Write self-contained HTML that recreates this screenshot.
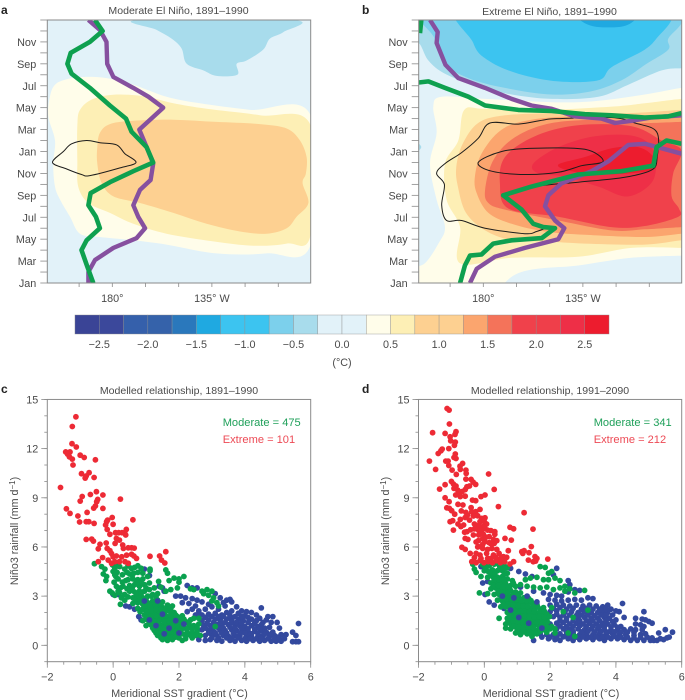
<!DOCTYPE html>
<html lang="en">
<head>
<meta charset="utf-8">
<title>El Niño composites and rainfall relationship</title>
<style>
html,body{margin:0;padding:0;background:#fff;}
svg{display:block;font-family:"Liberation Sans",sans-serif;fill:#4a4a4a;}
.title{font-size:10.55px;text-anchor:middle;}
.tick{font-size:10.8px;}
.panel{font-size:12px;font-weight:bold;fill:#222;}
.cb{font-size:10.8px;text-anchor:middle;}
.axt{font-size:10.7px;text-anchor:middle;}
.leg{font-size:11.1px;}
</style>
</head>
<body>
<svg id="fig" xmlns="http://www.w3.org/2000/svg" width="685" height="700" viewBox="0 0 685 700">
  <text class="panel" x="1" y="14">a</text>
  <text class="title" x="178.5" y="14">Moderate El Niño, 1891–1990</text>
  <text class="panel" x="362" y="14">b</text>
  <text class="title" x="549.5" y="15">Extreme El Niño, 1891–1990</text>
  <text class="cb" x="342" y="366">(°C)</text>
  <text class="panel" x="1" y="393">c</text>
  <text class="title" x="179" y="394">Modelled relationship, 1891–1990</text>
  <text class="panel" x="362" y="393">d</text>
  <text class="title" x="550" y="394">Modelled relationship, 1991–2090</text>
  <text class="axt" x="179.5" y="697">Meridional SST gradient (°C)</text>
  <text class="axt" x="551" y="697">Meridional SST gradient (°C)</text>
  <text class="axt" transform="translate(18,531) rotate(-90)">Niño3 rainfall (mm d<tspan dy="-3" font-size="8">−1</tspan><tspan dy="3">)</tspan></text>
  <text class="axt" transform="translate(389,531) rotate(-90)">Niño3 rainfall (mm d<tspan dy="-3" font-size="8">−1</tspan><tspan dy="3">)</tspan></text>
</svg>
<script>
// ---------- Tick labels ----------
const monthLabels = ["Jan","Mar","May","Jul","Sep","Nov","Jan","Mar","May","Jul","Sep","Nov"];
const lonTicks = [165,180,195,210,225,240,255];
const lonLabels = {180:"180°",225:"135° W"};
const colorbarTicks = [-2.5,-2,-1.5,-1,-0.5,0,0.5,1,1.5,2,2.5];
const colorbarSteps = [-2.75,-2.5,-2.25,-2,-1.75,-1.5,-1.25,-1,-0.75,-0.5,-0.25,0,0.25,0.5,0.75,1,1.25,1.5,1.75,2,2.25,2.5,2.75];
const scatterXTicks = [-2,0,2,4,6];
const scatterYTicks = [0,3,6,9,12,15];

// ---------- Panel a: contour bands, [lon, month, lon, month, ...] ----------
const aNeg05 = [191.7,24,200,23.1,206.8,22.3,211.3,21.4,213.6,20,221.1,19.4,227.1,18.9,236.5,19,236.2,20,240.7,20.3,248.2,21.3,251.2,22.3,257.3,22.9,261.8,24];
const aPos025 = [151.8,17,151.1,15.2,154.1,13,153.3,10.9,154.1,8.8,156.4,7.6,160.9,6.05,165.4,4.5,174.4,4.2,189.5,3.9,204.5,3.5,227.1,2.7,249.7,2.7,269.6,3.5,269.6,15.3,242.2,15.8,219.6,16.4,204.5,17,189.5,18.1,177.4,18.7,166.9,18.8,159.4,18.6,154.1,18.1];
const aPos05 = [164.2,14.3,165.4,15.8,171.4,16.8,182,17.2,195.5,17,207.6,16.4,222.6,15.9,246.7,15.3,269.6,14.4,269.6,4.4,258.8,3.6,243.7,3.4,225.6,3.8,204.5,4.5,189.5,5.4,178.9,6.4,169.2,7.3,164.6,8.8,164.2,11.2];
const aPos075 = [173.2,12.4,174.4,13.7,178.9,14.5,189.5,14.8,207.6,14.9,227.1,14.7,246.7,14.5,258.8,14.1,264.8,13,267.8,11.5,267.5,10,266,9.1,268.6,7.3,263.3,6.05,258.8,5,249.7,4.5,237.7,4.7,222.6,5.4,207.6,6.4,192.5,7.3,180.5,7.9,175.2,9.1,173.2,10.9];
const aPurple = [169.2,0,169.2,1,172.2,2.1,180.5,3.2,191,4.1,194.8,5,191.7,6.05,189.5,7.1,192.5,8.5,197.3,9.4,198.5,10.9,195.5,12.4,192.2,14,203,16,196.3,17,189.5,17.8,180.5,18.8,177.7,20,177.4,22,174.4,23.1,169.2,24];
const aGreen = [171.4,0,168.7,1.5,166.1,3,168.4,3.9,174.4,5,172.6,6.05,169.2,7.1,170.2,8.2,178.9,9.2,189.5,10.2,198.5,11,195.5,12.4,188.7,13.8,186.2,15,178.9,16.2,169.9,17.8,161.6,19.1,159.7,20,161.2,21,169.9,22,175.6,23,172.2,24];
const aBlack = [153,11,157.9,12,161.6,12.7,168.4,13,174.4,12.8,182,12.6,185.7,11.8,190.7,11,183.5,10.5,169.9,9.8,166.1,9.9,159.4,10.4];

// ---------- Panel b: contour bands ----------
const bNeg05 = [150.8,21.9,155.2,20.3,162.7,19.1,177.7,17.9,192.8,17.2,210.9,16.8,232,17,245.5,18.1,260.6,19.4,269.6,19.6,275,19.6,275,26,145,26,145,21.9];
const bNeg075 = [157.4,26,158.2,22.2,162.7,20,173.2,18.7,189.8,17.8,210.9,17.2,228.9,17.5,242.5,18.5,253.8,20,263.6,21.3,263.6,22.3,269.6,23.7,275,26];
const bNeg1 = [172,26,175.5,21.9,182.3,20.3,195.8,19.1,213.9,18.4,232,18.5,238,19.7,253,21.3,259.1,22.5,265.1,24,268,26];
const bNeg15 = [220,25,223.7,24,230.5,23.4,242.5,23.4,248.5,24,252,25];
const bLeftBlob = [148,13,152,12.4,148,11.8];
const bPos025 = [157.4,16.1,158.9,13.7,155.9,10.9,158.9,7.6,162.7,5.1,159.7,3.6,153.6,1.8,146,1,146,-2,177.7,-2,195.8,0.9,222.9,1.6,247,2.3,269.6,2.5,276,2.5,276,17.8,269.6,17.8,253,17.2,230.5,16.6,210.9,16.5,180.8,16.8,161.2,17];
const bPos05 = [171.4,15.8,168.7,13,162.7,10.9,163.4,7.6,169.5,5.1,169.5,1.8,192.8,2.3,222.9,2.4,247,3.2,269.6,3.2,276,3.2,276,16.8,269.6,16.8,253,16.4,238,16.1,207.9,15.8,180.8,15.9];
const bPos075 = [167.8,10.6,170.7,12.7,177.7,14.6,189.8,15.3,213.9,15.5,245.5,15.5,269.6,15.8,276,15.8,276,3.9,269.6,3.9,253,3.5,225.9,3.6,207.9,3.8,192.8,3.9,180.8,4.8,172.2,6.4,168.5,8.8];
const bPos125 = [176.2,9.7,179.2,11.8,188.3,14,201.8,14.9,222.9,15.2,245.5,15,269.6,15.3,276,15.3,276,4.5,269.6,4.5,253,4.2,225.9,4.4,207.9,4.7,192.8,5.4,182.3,6.4,177,8.2];
const bPos15 = [180.8,8.5,184.5,11.2,194.3,13.3,210.9,14.6,235,14.9,250,14.6,269.6,14.7,276,14.7,276,5.1,269.6,5.1,253,4.9,238,4.8,213.9,5.7,189.8,6.7,182.3,7.3];
const bPos175 = [187.5,9.1,189.8,11.5,203.3,13.4,222.9,14.4,247,14.3,260.6,13,269.6,12.1,265.8,10,265.1,7.9,268.4,6.8,268.1,6.05,253,5.2,238,5.1,213.9,6.05,191.3,6.8];
const bPos225 = [202.6,10.9,213.9,12.4,230.5,13.4,248.5,13.4,256.8,12.1,256.8,9.4,245.5,7.9,232,8.8,216.9,9.7,204.8,10];
const bPos25 = [213.9,10.8,225.9,11.5,238,12.3,250,12.4,256.8,11.5,256,10.3,235,9.9,219.9,10.2];
const bGreenLower = [169.5,0,171.7,1.6,174,2.5,179.2,2.6,184.5,3.6,192.8,3.9,206.4,4.1,212.4,5,207.1,5.1,202.6,5.4,197.3,6.7,189,8,201.8,8.8,222.9,9.9,242.5,10.2,256.8,10.7,258.3,12.4,262.8,13,269.6,12.7];
const bGreenUpper = [150.8,18.3,155.2,18.4,162.7,17.8,173.2,17,180.8,16.2,195.8,15.8,210.9,15.7,225.9,15.4,238,15.3,253,15.1,263.6,15.2,269.6,15.5];
const bGreenTop = [152,24,151.4,22.8];
const bPurpleLower = [174,0,177,1.3,185.3,2.4,198.8,3.2,213.9,4,216.6,5,212.4,5.7,207.9,7,209.4,8,215.4,9.1,228.9,10.2,236.5,11.1,245.5,12.6,253,12.7,269.6,11.8];
const bPurpleUpper = [155.9,24,159.4,22.9,158.9,21.9,162.9,19.9,168.7,18.7,180.8,17.8,192.8,16.8,201.8,16.2,210.9,15.9,221.4,15.2,233.5,15,239.5,14.6,247,14.8,256,15.1,269.6,15.3];
const bBlackOuter = [209.4,5.1,204.1,4.7,198.8,4.5,180.8,5,170.2,5.7,163.4,5.7,161.2,7.1,162.4,9,158.9,10,162.7,10.9,170.2,11.9,177.7,13.2,183,14.6,195.8,14.5,207.9,14.9,213.9,15,238,15.1,248.5,14.6,258.3,13.8,258.6,11.5,256,10.3,242.5,9.6,222.9,9.2,203.3,8.8,189,7.9];
const bBlackInner = [177.7,11,188.3,12,203.3,12.3,225.9,12.2,234.2,11.1,224.4,10.7,213.9,10.1,198.8,9.9,183.8,10.2];

// ---------- Panel c scatter: [x, y, x, y, ...] ----------
const cExtreme = [-1.13,13.94,-1.24,13.35,-1.25,12.3,-1.12,12.1,-1.44,11.8,-1.31,11.8,-1.38,11.66,-1.33,11.5,-1.24,11.36,-1.22,11,-1,11.6,-0.88,11.46,-0.54,11.32,-0.96,10.47,-0.73,10.53,-0.82,10.33,-0.85,10.2,-0.58,10.24,-1.6,9.63,-0.51,9.37,-0.69,9.2,-0.31,9.17,-0.94,9.08,-1,8.8,-0.47,8.9,-0.5,8.76,0.22,8.92,-0.54,8.5,-0.59,8.37,-0.31,8.35,-1.42,8.33,-1.31,8.05,-0.79,8.11,-1.07,7.89,-1.02,7.52,-0.82,7.54,-0.74,7.54,-0.58,7.44,-0.03,7.8,-0.17,7.64,-0.2,7.54,0.6,7.66,0,7.38,-0.23,7.34,-0.18,7.07,0.4,7.07,0.35,6.87,0.07,6.87,0.17,6.87,0.27,6.87,-0.1,6.77,0.38,6.73,0.1,6.52,0.19,6.42,-0.82,6.46,-0.65,6.48,-0.6,6.36,-0.21,6.24,0.06,6.22,-0.4,6.16,0.29,6.12,-0.45,5.89,-0.18,5.91,-0.1,5.77,0.31,5.91,0.46,5.95,0.56,5.95,0.64,5.93,-0.05,5.6,0.56,5.55,0.63,5.45,1.12,5.43,1.41,5.45,1.6,5.71,1.47,5.2,1.57,5.02,-0.32,5.35,-0.45,5.1,-0.15,5.2,0,5.4,0.1,5.45,0.26,5.4,0.41,5.5,0.71,5.3,0.05,5.1,0.19,5.1,0.46,5,-0.05,5,0.36,5.1];
const cModerate = [-0.57,4.98,-0.35,4.8,-0.25,4.65,-0.3,4.35,-0.2,4.2,-0.22,3.95,-0.1,3.3,-0.03,3.2,0.05,3.05,-0.02,4.9,0.05,4.7,0,4.5,0.1,4.85,0.12,4.45,0.2,4.8,0.08,4.2,0.15,4.05,0.03,3.85,0.1,3.6,0.22,3.5,0.2,3.2,0.25,2.9,0.22,2.5,0.35,2.75,0.35,3.1,0.3,3.6,0.38,3.95,0.28,4.3,0.35,4.65,0.45,4.85,0.55,4.7,0.65,4.75,0.75,4.85,0.85,4.7,0.5,4.35,0.62,4.4,0.75,4.45,0.9,4.4,0.45,4,0.6,4.05,0.75,4,0.9,4.05,1.05,4.2,1.12,4.65,0.5,3.65,0.65,3.7,0.8,3.6,0.95,3.7,1.1,3.8,0.5,3.3,0.65,3.25,0.8,3.3,0.95,3.3,1.1,3.4,1.25,3.5,0.45,2.95,0.6,2.9,0.75,2.95,0.9,2.9,1.05,3,1.2,3.1,1.35,3.15,0.6,2.55,0.75,2.6,0.9,2.5,1.05,2.6,1.2,2.7,1.35,2.75,1.5,2.65,0.75,2.25,0.9,2.2,1.05,2.25,1.2,2.35,1.35,2.4,1.5,2.3,1.65,2.45,1.8,2.4,0.95,1.85,1.1,1.9,1.25,2,1.4,2.05,1.55,1.95,1.7,2.1,1.85,2,0.9,1.5,1.05,1.55,1.2,1.6,1.35,1.65,1.5,1.6,1.65,1.7,1.8,1.65,1.95,1.75,2.1,1.8,1,1.2,1.15,1.25,1.3,1.3,1.45,1.2,1.6,1.3,1.75,1.3,1.9,1.35,2.05,1.4,2.2,1.45,2.35,1.55,2.45,1.65,2.6,1.65,1.25,0.9,1.4,0.95,1.55,0.9,1.7,0.95,1.85,1,2,1,2.15,1.05,2.3,1.15,2.45,1.2,2.6,1.3,1.35,0.6,1.5,0.55,1.65,0.65,1.8,0.6,1.95,0.7,2.1,0.7,2.25,0.8,2.4,0.75,2.55,0.85,2.65,0.6,1.5,0.35,1.65,0.3,1.8,0.35,2.1,0.3,2.2,0.4,2.4,0.45,1.12,4.55,1.6,4.6,1.65,4.4,1.7,3.95,1.85,4.1,2,4.05,2.15,4.2,2,3.85,1.95,3.5,1.75,3.4,1.6,3.3,1.45,3.55,1.38,3.9,2.35,3.45,2.45,3.4,2.7,3.3,2.85,3.4,3,3.3,2.75,3.15,2.9,3.05,3.05,2.9,3,2.7,3.15,2.6,3.2,2.4,3.1,1.15,0.05,4.3,0.15,3.3,0.28,3.85,0.42,3.45,0.42,4.45,0.58,4.25,0.58,3.5,0.7,3.15,0.7,3.85,0.85,3.15,0.85,3.85,1,3.5,1,2.85,1.15,3,1.3,2.95,0.68,2.75,0.82,2.75,0.98,2.4,1.12,2.45,1.28,2.5,1.45,2.5,0.82,2.05,1,2.05,1.15,2.1,1.3,2.2,1.45,2.2,1.6,2.2,1.75,2.25,1,1.7,1.15,1.75,1.3,1.8,1.45,1.85,1.6,1.8,1.75,1.85,1.9,1.85,1.1,1.4,1.25,1.45,1.4,1.45,1.55,1.45,1.7,1.5,1.85,1.5,2,1.55,2.15,1.6,2.3,1.35,1.2,1.05,1.35,1.1,1.5,1.05,1.65,1.1,1.8,1.15,1.95,1.2,2.1,1.2,2.25,1,2.4,1,2.55,1.05,1.3,0.75,1.45,0.75,1.6,0.75,1.75,0.8,1.9,0.85,2.05,0.85,2.2,0.6,2.35,0.6,2.5,0.6,1.45,0.45,1.6,0.45,1.75,0.5,1.9,0.5,2,0.45];
const cWeak = [0,3.1,0.15,3.1,0.38,2.4,0.5,2.35,0.65,2.2,0.78,1.75,0.85,1.55,0.95,4.65,1.1,4.25,1.4,3.6,1.5,3.5,1.55,3.3,2.25,3.65,2.4,3.5,2.55,3.5,1.9,3,2.05,3,2.2,2.9,2.4,2.85,2.55,2.75,2.7,2.65,2.9,2.5,2.1,2.6,2.3,2.55,2.5,2.4,3.1,3.15,3.25,2.9,3.35,2.6,3.45,2.75,3.55,2.8,3.6,2.65,3.4,2.4,3.2,2.2,3,2.35,2.8,2.2,2.6,2.1,2.4,2.2,2.25,2.05,3.75,2.35,3.9,2.1,4.05,2.05,4.2,2,4.35,1.85,4.5,2.28,4,1.8,3.8,1.95,3.6,2.1,3.45,2,3.3,1.85,3.1,1.95,2.9,1.9,2.7,1.85,2.5,1.85,4.2,1.6,4.35,1.5,4.55,1.4,4.7,1.75,4.85,1.75,4.65,1.55,4.8,1.4,4.98,1.4,5.05,1.05,2.7,1.5,2.9,1.55,3.1,1.6,3.25,1.55,3.45,1.6,3.6,1.55,3.8,1.6,3.95,1.5,4.1,1.4,2.75,1.2,2.95,1.2,3.15,1.25,3.3,1.2,3.5,1.25,3.7,1.25,3.85,1.2,4,1.15,4.2,1.2,4.4,1.15,4.6,1.05,4.75,1.1,2.7,0.95,2.9,0.9,3.05,0.85,3.25,0.9,3.4,0.9,3.6,0.95,3.75,0.9,3.95,0.9,4.1,0.85,4.3,0.85,4.5,0.9,4.65,0.8,4.85,0.8,2.8,0.6,3,0.6,3.15,0.6,3.35,0.6,3.5,0.55,3.7,0.6,3.85,0.6,4.05,0.6,4.2,0.55,4.4,0.55,4.55,0.6,4.75,0.55,4.9,0.6,5.1,0.65,5.25,0.65,5.45,0.8,5.55,0.6,2.6,0.35,2.8,0.3,2.95,0.35,3.15,0.3,3.3,0.25,3.55,0.3,3.7,0.25,3.9,0.3,4.05,0.25,4.25,0.3,4.45,0.25,4.6,0.3,4.8,0.25,4.95,0.25,5.1,0.25,5.45,0.22,5.55,0.22,5.63,0.22,5.63,1.33,2.6,1.95,2.8,1.7,3,1.75,3.2,1.75,3.35,1.75,3.55,1.8,3.7,1.75,3.9,1.75,4.1,1.7,4.45,1.65,2.85,1.35,3.05,1.4,3.25,1.4,3.4,1.4,3.6,1.4,3.75,1.4,3.9,1.35,4.3,1.35,4.5,1.25,2.8,1.05,3,1.05,3.2,1.05,3.35,1.05,3.55,1.1,3.7,1.05,3.9,1.05,4.1,1,4.3,1,4.45,1,2.9,0.75,3.1,0.75,3.3,0.75,3.45,0.75,3.65,0.75,3.85,0.75,4,0.75,4.2,0.7,4.4,0.7,4.6,0.7,4.8,0.7,5,0.5,3,0.45,3.2,0.45,3.45,0.45,3.6,0.45,3.8,0.45,4,0.4,4.15,0.4,4.35,0.4,4.5,0.4,4.7,0.4,4.9,0.4,5.05,0.4,5.2,0.4];
const cWeakOnTop = [1.35,2.7,1.5,1.9,1.3,1.2,1.7,1.05,1.9,1.5,1.55,0.7,2,0.75,2.15,1.3,1.1,1.55,0.95,2.7];

// ---------- Panel d scatter ----------
const dExtreme = [-1.13,14.45,-1.07,14.35,-1.06,13.5,-1.57,12.97,-1.19,12.93,-0.86,13.03,-0.89,12.87,-1.04,12.72,-1.02,12.48,-0.88,12.4,-0.91,12.2,-1.08,12,-1.28,11.97,-1.32,11.87,-1.4,11.7,-0.88,11.67,-0.92,11.46,-0.86,11.4,-1.67,11.24,-1.17,11.24,-1.1,11.24,-1.08,10.97,-0.66,11.1,-0.74,10.93,-0.73,10.73,-1.48,10.73,-0.56,10.69,-0.98,10.69,-0.55,10.49,-0.85,10.43,0.13,10.45,-0.56,10.14,-0.4,10.12,-1,10,-0.34,9.96,-0.26,9.82,-1.19,9.8,-0.94,9.84,-0.86,9.72,-0.92,9.57,-1.36,9.53,-0.53,9.67,-0.45,9.72,-0.58,9.5,0.3,9.51,-0.81,9.47,-0.68,9.37,-0.76,9.23,-0.87,9.17,0.02,9.17,-0.1,9.07,-1.19,9,-0.58,9.1,-0.73,9.07,-1.07,8.76,-0.36,8.86,-0.26,8.82,-0.65,8.56,0.43,8.46,-1.14,8.39,-1.06,8.35,-0.99,8.21,-0.13,8.29,-0.26,8.15,-0.38,8.15,-0.56,8.11,1.21,8.09,-0.51,7.95,-0.33,7.89,0.02,7.78,-0.08,7.74,-0.58,7.8,-0.45,7.64,-0.73,7.68,-0.96,7.6,-1.04,7.54,-0.13,7.54,0,7.54,-0.18,7.3,0.07,7.4,-0.63,7.34,-0.71,7.24,-0.05,7.24,0.78,7.2,0.89,7.11,1.48,7.09,-0.94,7.03,-0.18,7.03,-0.08,6.99,0.02,7.13,0.1,7.03,-0.53,6.93,0.32,6.93,-0.33,6.73,-0.17,6.73,-0.03,6.77,0.15,6.63,0.32,6.77,-0.58,6.52,-0.5,6.46,0.63,6.52,0.82,6.42,0.28,6.46,-0.18,6.38,0.02,6.32,0.15,6.26,0.3,6.22,0.38,6.38,-0.68,5.98,-0.58,5.85,-0.18,6.02,-0.05,5.91,0.23,5.91,0.38,5.85,1.43,6.02,0.73,5.77,1.14,5.71,1.21,5.77,1.17,5.61,1.36,5.65,-0.43,5.61,-0.25,5.61,-0.13,5.51,0.07,5.61,0.28,5.51,0.45,5.61,0.58,5.41,0.68,5.37,1.54,5.41,1.34,5.2,1.93,5.26,1.49,5.1,1.6,5.3,1.56,5.14,0.89,5.1,0.78,4.96,-0.38,5.1,-0.25,5.04,-0.13,5.16,-0.01,5.04,0.12,5.1,0.25,5.04,0.37,5.16,0.49,5.04,0.62,5.1,-0.25,6.3,-0.05,6.5,0.1,5.85,0.2,5.3,-0.3,5.35,-0.1,5.3,0.1,5.3,0.35,5.35,0.5,5.3,-0.2,6,0.2,6.2,-0.3,7.1,-0.42,7.05,-0.4,8.4,-0.7,8.2,-0.8,8.6,-0.9,8,-0.8,7.4,-0.6,6.9,0.05,6.6,0.2,7,-0.2,7.9,-0.3,7.4,-0.05,6.15];
const dModerate = [-0.35,4.95,-0.3,4.65,-0.25,4.45,-0.1,4.2,-0.05,4.9,0.05,4.95,0.15,4.85,0.3,4.95,0.45,4.9,0.6,4.9,0.7,4.75,-0.15,3.2,0,4.55,0.12,4.5,0.25,4.6,0.4,4.55,0.55,4.55,0.7,4.4,0.1,4.15,0.25,4.2,0.4,4.15,0.55,4.2,0.7,4.05,0.85,3.95,0.2,3.8,0.35,3.85,0.5,3.8,0.65,3.75,0.8,3.65,0.95,3.6,0.2,3.45,0.35,3.5,0.5,3.45,0.65,3.4,0.8,3.35,0.95,3.25,1.1,3.2,0.1,3.15,0.3,3.1,0.45,3.1,0.6,3.05,0.75,3,0.9,2.95,1.05,2.9,1.2,2.9,1.35,2.85,0.4,2.75,0.55,2.7,0.7,2.7,0.85,2.6,1,2.6,1.15,2.55,1.3,2.55,1.45,2.6,1.6,2.5,0.5,2.35,0.65,2.35,0.8,2.3,0.95,2.25,1.1,2.25,1.25,2.2,1.4,2.2,1.55,2.3,1.7,2.2,1.8,2.3,0.7,2,0.85,1.95,1,1.9,1.15,1.95,1.3,1.9,1.45,1.85,1.6,1.95,1.75,1.85,1.9,1.9,2.05,2.3,0.45,1.65,0.7,1.65,0.85,1.6,1,1.6,1.15,1.6,1.3,1.6,1.45,1.5,1.6,1.6,1.75,1.55,1.9,1.6,0.65,1.3,0.8,1.3,0.95,1.25,1.1,1.3,1.25,1.25,1.4,1.2,1.55,1.25,1.7,1.2,1.85,1.3,0.65,1.05,0.8,1,1,0.95,1.15,0.95,1.3,0.9,1.45,0.95,1.6,0.9,1.8,0.95,2,1,2.15,1,0.95,0.75,1.1,0.65,1.3,0.7,1.45,0.6,1.6,0.7,1.45,0.55,1.7,4.8,1.85,4.75,2.05,4.5,1.95,4.4,1.6,4.15,1.4,4.1,1.25,4,1.8,4,1.95,4,2.15,4.1,2.3,3.95,1.1,3.7,1.3,3.6,1.5,3.55,1.7,3.5,1.9,3.55,2.1,3.4,2.3,3.5,2.45,3.3,2.6,3.45,2.75,3.2,3.05,3.35,2.45,3.6,2.4,2.05,2.7,1.7,2.15,0.75,2.55,0.75,2.75,0.55,3.15,2.15,0.05,4.75,0.2,4.4,0.32,4.35,0.47,4.7,0.62,4.7,0.62,4.35,0.3,4,0.45,4,0.6,4,0.28,3.65,0.42,3.65,0.58,3.6,0.72,3.6,0.88,3.8,0.42,3.3,0.58,3.25,0.72,3.2,0.88,3.1,1.02,3.05,0.52,2.9,0.68,2.85,0.82,2.8,0.98,2.78,1.12,2.72,1.28,2.72,1.42,2.72,0.58,2.52,0.72,2.5,0.88,2.45,1.02,2.42,1.18,2.38,1.32,2.38,1.48,2.42,1.62,2.35,0.78,2.15,0.92,2.1,1.08,2.08,1.22,2.05,1.38,2.05,1.52,2.1,1.68,2.05,1.82,2.1,0.78,1.8,0.92,1.78,1.08,1.75,1.22,1.78,1.38,1.75,1.52,1.72,1.68,1.75,1.82,1.72,1.98,1.75,0.72,1.48,0.88,1.45,1.02,1.45,1.18,1.45,1.32,1.42,1.48,1.38,1.62,1.42,1.78,1.38,1.92,1.42,0.88,1.15,1.05,1.12,1.2,1.1,1.35,1.05,1.5,1.1,1.68,1.05,1.9,1.12,2.05,1.15,1.05,0.82,1.2,0.82,1.38,0.8,1.52,0.78,1.7,0.85,1.9,0.8];
const dWeak = [-0.1,4.8,0.1,3.9,-0.05,3.8,0.02,3.1,0.15,2.65,0.3,2.45,0.6,2.25,0.8,4.7,1.05,4.5,1.25,4.35,1.45,4.2,2.2,4.7,2.1,4.3,1.1,3.55,1.5,3.3,1.8,3.2,2,3.1,2.2,3.05,2.35,3,2.55,3.95,2.6,3.7,2.55,3.25,2.75,3.4,2.9,3.35,1.95,2.8,2.15,2.75,2.35,2.7,2.55,2.75,2.75,2.8,2.95,2.75,3.15,2.9,3.3,2.85,2,2.45,2.2,2.5,2.4,2.45,2.6,2.4,2.8,2.45,3,2.4,3.2,2.45,3.4,2.4,3.6,2.35,3.75,2.45,3.85,2.2,4.2,2.55,2,2.05,2.2,2.1,2.45,2,2.65,2.05,2.85,2,3.05,2.05,3.25,2,3.45,2,3.6,2.05,3.75,2,4.1,2.05,4,2.1,4.85,2.05,2.1,1.75,2.3,1.7,2.5,1.65,2.85,1.65,3.05,1.7,3.25,1.65,3.45,1.65,3.65,1.7,3.8,1.65,4,1.55,4.25,1.7,4.6,1.65,4.8,1.6,4.9,1.55,5,1.45,5.1,1.35,2,1.3,2.2,1.35,2.4,1.4,2.6,1.3,2.8,1.35,3,1.3,3.2,1.35,3.4,1.3,3.6,1.35,3.75,1.3,3.95,1.25,4.15,1.15,4.6,1.3,4.75,1.25,4.85,1.15,2.2,1,2.4,1,2.6,0.95,2.85,1,3.05,0.95,3.25,1,3.45,1,3.65,0.95,3.85,0.95,4.05,0.95,4.25,0.95,4.45,1,4.6,0.95,4.8,0.95,1.7,0.7,1.9,0.65,2.1,0.65,2.3,0.7,2.5,0.65,2.7,0.75,2.9,0.65,3.1,0.7,3.3,0.65,3.5,0.7,3.7,0.65,3.9,0.7,4.1,0.65,4.3,0.65,4.55,0.6,4.75,0.65,4.9,0.7,5.3,0.75,5.5,0.95,5.72,0.8,1.5,0.3,1.75,0.5,1.95,0.4,2.15,0.35,2.3,0.3,2.55,0.4,2.7,0.3,2.9,0.35,3.1,0.4,3.3,0.35,3.5,0.4,3.65,0.3,3.85,0.4,4.05,0.4,4.25,0.35,4.45,0.3,4.65,0.3,4.85,0.3,5.05,0.3,5.15,0.3,5.25,0.3,5.35,0.4,5.45,0.35,5.55,0.45,5.62,0.5,5.1,0.45,2.1,2.25,2.3,2.3,2.5,2.2,2.7,2.25,2.95,2.2,3.1,2.25,3.3,2.2,3.5,2.2,3.7,2.2,2.2,1.9,2.4,1.85,2.6,1.85,2.8,1.82,2.95,1.85,3.15,1.85,3.35,1.82,3.55,1.85,3.7,1.85,3.9,1.85,2.3,1.52,2.5,1.52,2.7,1.5,2.9,1.5,3.1,1.5,3.3,1.5,3.5,1.5,3.7,1.5,3.9,1.45,2.3,1.18,2.5,1.15,2.7,1.15,2.9,1.18,3.1,1.15,3.3,1.15,3.5,1.15,3.65,1.15,3.85,1.12,4.05,1.1,2.5,0.82,2.7,0.85,2.95,0.82,3.15,0.85,3.35,0.82,3.55,0.85,3.75,0.8,3.95,0.82,4.15,0.8,4.35,0.8,4.55,0.78,2,0.5,2.2,0.5,2.4,0.52,2.6,0.52,2.8,0.5,3,0.52,3.2,0.5,3.4,0.52,3.6,0.52,3.75,0.5,3.95,0.55,4.15,0.5,4.35,0.5,4.55,0.45,4.75,0.48,4.95,0.5];
const dWeakOnTop = [1.3,3,0.8,2.15,1.05,1.7,1.6,2.65,0.55,3,1.35,1.35,1.75,1.05,0.9,2.9];

// ---------- Styling (not data) ----------
const NS = "http://www.w3.org/2000/svg";
const fig = document.getElementById("fig");
const INK = "#8a8a8a";
const COL = {n05:"#a8dcec",n075:"#7cd0ec",n1:"#3cc4f0",n15:"#1fa9e1",zero:"#e2f2f9",p025:"#fffdea",p05:"#fdefb5",p075:"#fdd091",p125:"#fba56e",p15:"#f4735a",p175:"#f0414b",p225:"#ee2f47",p25:"#ed1c2e"};
const BAR = ["#3a4496","#3b489b","#3560ab","#3562aa","#2a78bc","#1fa9e1","#3cc4f0","#3cc4f0","#7cd0ec","#a8dcec","#e2f2f9","#e2f2f9","#fffdea","#fdefb5","#fdd091","#fdd091","#fba56e","#f4735a","#f0414b","#ef3f4a","#ee2f47","#ed1c2e"];

function mk(tag, attrs, parent){
  const el = document.createElementNS(NS, tag);
  for (const k in attrs) el.setAttribute(k, attrs[k]);
  (parent || fig).appendChild(el);
  return el;
}
function tickLine(x1,y1,x2,y2,name){
  const el = mk("line",{x1:x1,y1:y1,x2:x2,y2:y2,stroke:INK,"stroke-width":0.8});
  
  
}
function label(txt,x,y,anchor,name,cls){
  const el = mk("text",{x:x,y:y,"text-anchor":anchor,"class":cls||"tick"});
  el.textContent = txt;
  
  
}
// Smooth curve through screen points (Catmull-Rom)
function smoothPath(P, closed){
  const n = P.length;
  const at = i => closed ? P[(i+n)%n] : P[Math.max(0,Math.min(n-1,i))];
  let d = "M"+P[0][0].toFixed(1)+" "+P[0][1].toFixed(1);
  const segs = closed ? n : n-1;
  for (let i=0;i<segs;i++){
    const p0=at(i-1),p1=at(i),p2=at(i+1),p3=at(i+2);
    d += "C"+(p1[0]+(p2[0]-p0[0])/6).toFixed(1)+" "+(p1[1]+(p2[1]-p0[1])/6).toFixed(1)+" "+
         (p2[0]-(p3[0]-p1[0])/6).toFixed(1)+" "+(p2[1]-(p3[1]-p1[1])/6).toFixed(1)+" "+
         p2[0].toFixed(1)+" "+p2[1].toFixed(1);
  }
  return d + (closed ? "Z" : "");
}

// ---------- Hovmöller panels ----------
const TOP = 20, BOTTOM = 283, PX_LON = 2.213, MONTHS = 24;
const yMonth = m => BOTTOM - m * (BOTTOM - TOP) / MONTHS;

function hovPanel(id, left, right, x180){
  const xLon = lon => x180 + (lon - 180) * PX_LON;
  const clip = mk("clipPath",{id:"clip-"+id});
  mk("rect",{x:left,y:TOP,width:right-left,height:BOTTOM-TOP},clip);
  const g = mk("g",{"clip-path":"url(#clip-"+id+")"});
  
  
  const bg = mk("rect",{x:left,y:TOP,width:right-left,height:BOTTOM-TOP,fill:COL.zero},g);
  
  
  const screen = a => { const s=[]; for(let i=0;i<a.length;i+=2) s.push([xLon(a[i]),yMonth(a[i+1])]); return s; };
  const band = (a,color,name) => {
    const el = mk("path",{d:smoothPath(screen(a),true),fill:color},g);
    
    
  };
  const contour = (a,closed,name) => {
    const el = mk("path",{d:smoothPath(screen(a),closed),fill:"none",stroke:"#1d1d1b","stroke-width":1},g);
    
    
  };
  const line = (a,color,width,name) => {
    const el = mk("polyline",{points:screen(a).map(p=>p[0].toFixed(1)+","+p[1].toFixed(1)).join(" "),fill:"none",stroke:color,"stroke-width":width,"stroke-linejoin":"round"},g);
    
    
  };
  const frame = () => {
    const el = mk("rect",{x:left,y:TOP,width:right-left,height:BOTTOM-TOP,fill:"none",stroke:INK,"stroke-width":1});
    
    
    for (let m=0;m<=MONTHS;m++) tickLine(left-7,yMonth(m),left,yMonth(m),'month-tick');
    monthLabels.forEach((t,i)=>label(t,left-11,yMonth(i*2)+4,"end",'month-label'));
    lonTicks.forEach(l=>{
      tickLine(xLon(l),BOTTOM,xLon(l),BOTTOM+4,'longitude-tick');
      if (lonLabels[l]) label(lonLabels[l],xLon(l),BOTTOM+19,"middle",'longitude-label');
    });
  };
  return {band,line,contour,frame};
}

const pa = hovPanel("a",47.3,310.7,112.3);
pa.band(aNeg05,COL.n05,"a-band-neg-0.5");
pa.band(aPos025,COL.p025,"a-band-0.25");
pa.band(aPos05,COL.p05,"a-band-0.5");
pa.band(aPos075,COL.p075,"a-band-0.75");
pa.line(aPurple,"#86509f",4.4,"a-purple-line");
pa.line(aGreen,"#0ea04f",4.6,"a-green-line");
pa.contour(aBlack,true,"a-black-contour");
pa.frame();

const pb = hovPanel("b",418.7,681.7,483.3);
pb.band(bNeg05,COL.n05,"b-band-neg-0.5");
pb.band(bNeg075,COL.n075,"b-band-neg-0.75");
pb.band(bNeg1,COL.n1,"b-band-neg-1");
pb.band(bNeg15,COL.n15,"b-band-neg-1.5");
pb.band(bLeftBlob,COL.n05,"b-left-cool-patch");
pb.band(bPos025,COL.p025,"b-band-0.25");
pb.band(bPos05,COL.p05,"b-band-0.5");
pb.band(bPos075,COL.p075,"b-band-0.75");
pb.band(bPos125,COL.p125,"b-band-1.25");
pb.band(bPos15,COL.p15,"b-band-1.5");
pb.band(bPos175,COL.p175,"b-band-1.75");
pb.band(bPos225,COL.p225,"b-band-2.25");
pb.band(bPos25,COL.p25,"b-band-2.5");
pb.contour(bBlackOuter,false,"b-black-contour-outer");
pb.contour(bBlackInner,true,"b-black-contour-inner");
pb.line(bPurpleUpper,"#86509f",4.4,"b-purple-line-upper");
pb.line(bPurpleLower,"#86509f",4.4,"b-purple-line-lower");
pb.line(bGreenUpper,"#0ea04f",4.6,"b-green-line-upper");
pb.line(bGreenLower,"#0ea04f",4.6,"b-green-line-lower");
pb.line(bGreenTop,"#0ea04f",4.6,"b-green-line-top");
pb.frame();

// ---------- Colorbar ----------
const xBar = v => 342 + v * 97.1;
for (let i=0;i<colorbarSteps.length-1;i++){
  const r = mk("rect",{x:xBar(colorbarSteps[i]),y:315,width:xBar(colorbarSteps[i+1])-xBar(colorbarSteps[i]),height:19,fill:BAR[i],stroke:"#8f8f8f","stroke-width":0.5,"stroke-opacity":0.8});
  
  
}
colorbarTicks.forEach(v=>{
  label((v<0?"−":"")+Math.abs(v).toFixed(1),xBar(v),348,"middle",'colorbar-label',"cb");
});

// ---------- Scatter panels ----------
function scatter(id,left,right,weak,moderate,extreme,weakTop,modText,extText){
  const x = v => left + (v + 2) * (right - left) / 8;
  const y = v => 645.3 - v * 16.39;
  const top = y(15), bot = y(-1);
  const fr = mk("rect",{x:left,y:top,width:right-left,height:bot-top,fill:"none",stroke:INK,"stroke-width":1});
  
  
  scatterYTicks.forEach(v=>{
    tickLine(left-6,y(v),left,y(v),'y-major-tick');
    label(String(v),left-9,y(v)+4,"end",'y-tick-label');
  });
  for (let v=-1;v<=15;v++) tickLine(left-3,y(v),left,y(v),'y-minor-tick');
  scatterXTicks.forEach(v=>{
    tickLine(x(v),bot,x(v),bot+6,'x-major-tick');
    label((v<0?"−":"")+Math.abs(v),x(v),bot+19,"middle",'x-tick-label');
  });
  for (let v=-2;v<=6;v+=0.5) tickLine(x(v),bot,x(v),bot+3,'x-minor-tick');
  const dots = (a,color,name) => {
    for (let i=0;i<a.length;i+=2){
      const c = mk("circle",{cx:x(a[i]).toFixed(1),cy:y(a[i+1]).toFixed(1),r:2.9,fill:color});
      
      
    }
  };
  dots(weak,"#33499e",'weak-point');
  dots(moderate,"#0aa14f",'moderate-point');
  dots(weakTop,"#33499e",'weak-point');
  dots(extreme,"#ed2a35",'extreme-point');
  const lx = right - 88;
  const l1 = mk("text",{x:lx,y:426,"class":"leg",style:"fill:#1fa05a"});
  l1.textContent = modText;
  
  
  const l2 = mk("text",{x:lx,y:443,"class":"leg",style:"fill:#ed4a55"});
  l2.textContent = extText;
  
  
}
scatter("c",47.3,310.7,cWeak,cModerate,cExtreme,cWeakOnTop,"Moderate = 475","Extreme = 101");
scatter("d",418.5,681.7,dWeak,dModerate,dExtreme,dWeakOnTop,"Moderate = 341","Extreme = 212");
</script>
</body>
</html>
